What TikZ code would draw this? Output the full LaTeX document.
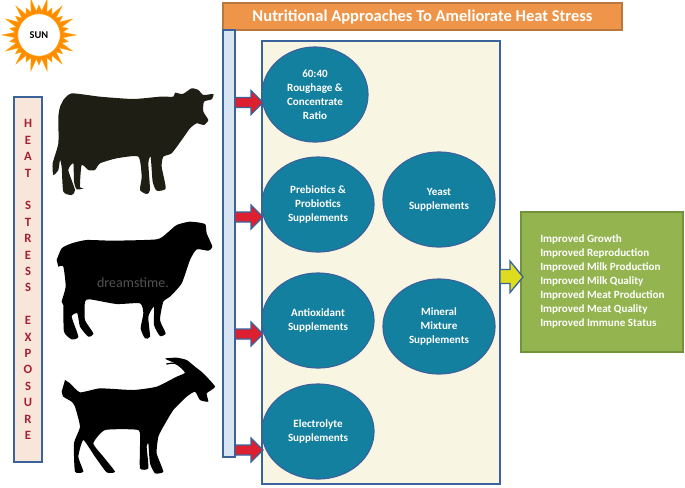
\documentclass[tikz,border=0pt]{standalone}
\usepackage{fontspec}
\setmainfont{Carlito}
\usetikzlibrary{shapes.geometric}
\definecolor{edgeblue}{HTML}{3A639C}
\definecolor{titlefill}{HTML}{EE9549}
\definecolor{titleedge}{HTML}{B9783F}
\definecolor{barfill}{HTML}{D7E4F2}
\definecolor{panelfill}{HTML}{F8F6E3}
\definecolor{teal}{HTML}{14809F}
\definecolor{greenfill}{HTML}{93B44F}
\definecolor{greenedge}{HTML}{73923C}
\definecolor{heatfill}{HTML}{F8E6DB}
\definecolor{heattext}{HTML}{A51F30}
\definecolor{redarrow}{HTML}{DC2030}
\definecolor{yellowarrow}{HTML}{DEDC1F}
\definecolor{cowcol}{HTML}{1E1E14}
\tikzset{
  box/.style={draw=edgeblue,line width=1.1pt,inner sep=0pt,outer sep=0pt},
  oval/.style={ellipse,draw=edgeblue,line width=.9pt,fill=teal,text=white,inner sep=0pt,outer sep=0pt,
    font=\fontsize{8.3}{10.5}\selectfont\bfseries,align=center},
  blockarrow/.style={draw=edgeblue,line width=1pt,line join=miter},
}
% shaft start, tip, y, half shaft, head length, colour (in px)
\newcommand{\blockarr}[6]{%
  \draw[blockarrow,fill=#6] (#1,#3-#4) -- (#2-#5,#3-#4) -- (#2-#5,#3-12) -- (#2,#3) -- (#2-#5,#3+12) -- (#2-#5,#3+#4) -- (#1,#3+#4) -- cycle;}
\begin{document}
\begin{tikzpicture}[x=.75pt,y=-.75pt]
\useasboundingbox (0,0) rectangle (685,487);
\fill[white] (0,0) rectangle (685,487);

% sun
\begin{scope}[shift={(39,35)}]
  \fill[orange!90!yellow,draw=orange!70!yellow,line width=.3pt,line join=miter]
    (0:37) \foreach \i [evaluate=\i as \r using {mod(\i,4)==0?37:(mod(\i,4)==2?30:24)},evaluate=\i as \a using \i*6.42857] in {1,...,55} { -- (\a:\r) } -- cycle;
\end{scope}
\node[circle,fill=white,draw=orange!80!yellow,line width=.6pt,minimum size=32pt,inner sep=0pt,font=\fontsize{7.8}{9}\selectfont\bfseries] (sun) at (39,35) {SUN};

% heat stress column
\node[box,fill=heatfill,minimum width=21pt,minimum height=273.75pt,text=heattext,align=center,
  font=\fontsize{9.5}{12.3}\selectfont\bfseries] (heat) at (28,279.5)
  {H\\E\\A\\T\\~\\S\\T\\R\\E\\S\\S\\~\\E\\X\\P\\O\\S\\U\\R\\E};

% cow
\begin{scope}[x=.25pt,y=-.25pt]
\fill[cowcol] plot[smooth,tension=.35] coordinates {(190,300)(215,280)(300,290)(400,297)(480,290)(520,290)(525,278)(548,282)(575,265)(595,270)(610,285)(640,282)(635,298)(612,305)(610,335)(625,360)(612,375)(590,370)(570,385)(545,420)(515,460)(490,470)(485,500)(497,565)(470,572)(458,545)(452,470)(445,490)(450,570)(440,582)(420,570)(425,530)(415,470)(350,475)(300,490)(285,510)(265,510)(245,495)(240,560)(252,565)(230,568)(222,545)(220,490)(205,510)(225,570)(215,585)(190,575)(185,500)(180,480)(175,510)(160,525)(158,490)(175,430)(175,350)(180,320)} -- cycle;
\end{scope}

% sheep and goat
\begin{scope}[yshift=-157.5pt,x=.25pt,y=-.25pt]
\fill[black] plot[smooth,tension=.35] coordinates {(170,150)(185,115)(215,100)(260,90)(340,92)(470,88)(500,70)(530,45)(570,35)(615,42)(620,70)(637,110)(625,122)(590,118)(570,150)(545,220)(510,260)(490,275)(480,330)(497,370)(480,378)(462,345)(462,290)(445,320)(450,380)(435,385)(422,355)(430,310)(420,280)(350,282)(270,268)(255,275)(255,330)(280,370)(265,380)(240,350)(232,310)(215,320)(235,380)(215,388)(192,365)(190,285)(185,275)(197,230)(190,170)(175,170)} -- cycle;
\fill[black] plot[smooth,tension=.3] coordinates {(195,510)(210,520)(240,547)(300,535)(400,540)(470,530)(530,500)(555,488)(530,462)(495,446)(530,443)(560,450)(585,470)(610,490)(645,530)(620,550)(625,575)(600,570)(585,545)(560,560)(520,600)(490,650)(475,680)(470,730)(490,785)(465,790)(450,760)(445,700)(440,710)(445,775)(420,775)(420,700)(415,660)(315,660)(280,700)(310,740)(345,785)(320,787)(285,740)(250,690)(235,740)(250,785)(225,785)(222,700)(240,650)(225,590)(215,575)(190,560)(185,545)} -- cycle;
\draw[black,line width=.9pt,line cap=round] plot[smooth] coordinates {(552,478)(525,460)(500,462)};
\end{scope}
\node[text=black!68,font=\fontsize{10.5}{12}\selectfont,inner sep=0pt] (mark) at (133,283) {dreamstime.};

% title
\node[draw=titleedge,line width=1.1pt,fill=titlefill,text=white,minimum width=299.25pt,minimum height=20.25pt,inner sep=0pt,
  font=\fontsize{12.4}{14}\selectfont\bfseries] (title) at (422.5,16.5) {Nutritional Approaches To Ameliorate Heat Stress};

% bar and panel
\node[box,fill=barfill,minimum width=9pt,minimum height=320pt] (bar) at (229,243.5) {};
\node[box,fill=panelfill,minimum width=178.5pt,minimum height=332.25pt] (panel) at (381,262.5) {};

% ovals
\node[oval,minimum width=79.5pt,minimum height=71.25pt] (o1) at (315,94.5) {60:40\\Roughage \&\\Concentrate\\Ratio};
\node[oval,minimum width=84pt,minimum height=71.25pt] (o2) at (318,204.5) {Prebiotics \&\\Probiotics\\Supplements};
\node[oval,minimum width=84pt,minimum height=71.25pt] (o3) at (318,320.5) {Antioxidant\\Supplements};
\node[oval,minimum width=84pt,minimum height=71.25pt] (o4) at (318,431.5) {Electrolyte\\Supplements};
\node[oval,minimum width=84pt,minimum height=71.25pt] (o5) at (439,199.5) {Yeast\\Supplements};
\node[oval,minimum width=84pt,minimum height=71.25pt] (o6) at (439,326.5) {Mineral\\Mixture\\Supplements};

% red arrows
\blockarr{235}{263}{102.5}{5}{12}{redarrow}
\blockarr{235}{263}{217}{5}{12}{redarrow}
\blockarr{235}{263}{334}{5}{12}{redarrow}
\blockarr{235}{263}{450}{5}{12}{redarrow}

% green box
\node[draw=greenedge,line width=1.1pt,fill=greenfill,minimum width=121.5pt,minimum height=105pt,inner sep=0pt] (green) at (602,282) {};
\node[anchor=north west,text=white,align=left,inner sep=0pt,font=\fontsize{8.3}{10.5}\selectfont\bfseries] (outcomes) at (540,234.5)
  {Improved Growth\\Improved Reproduction\\Improved Milk Production\\Improved Milk Quality\\Improved Meat Production\\Improved Meat Quality\\Improved Immune Status};

% yellow arrow
\draw[blockarrow,fill=yellowarrow] (500,269.5) -- (510,269.5) -- (510,261) -- (523,277) -- (510,292.5) -- (510,283.5) -- (500,283.5) -- cycle;
\end{tikzpicture}
\end{document}
